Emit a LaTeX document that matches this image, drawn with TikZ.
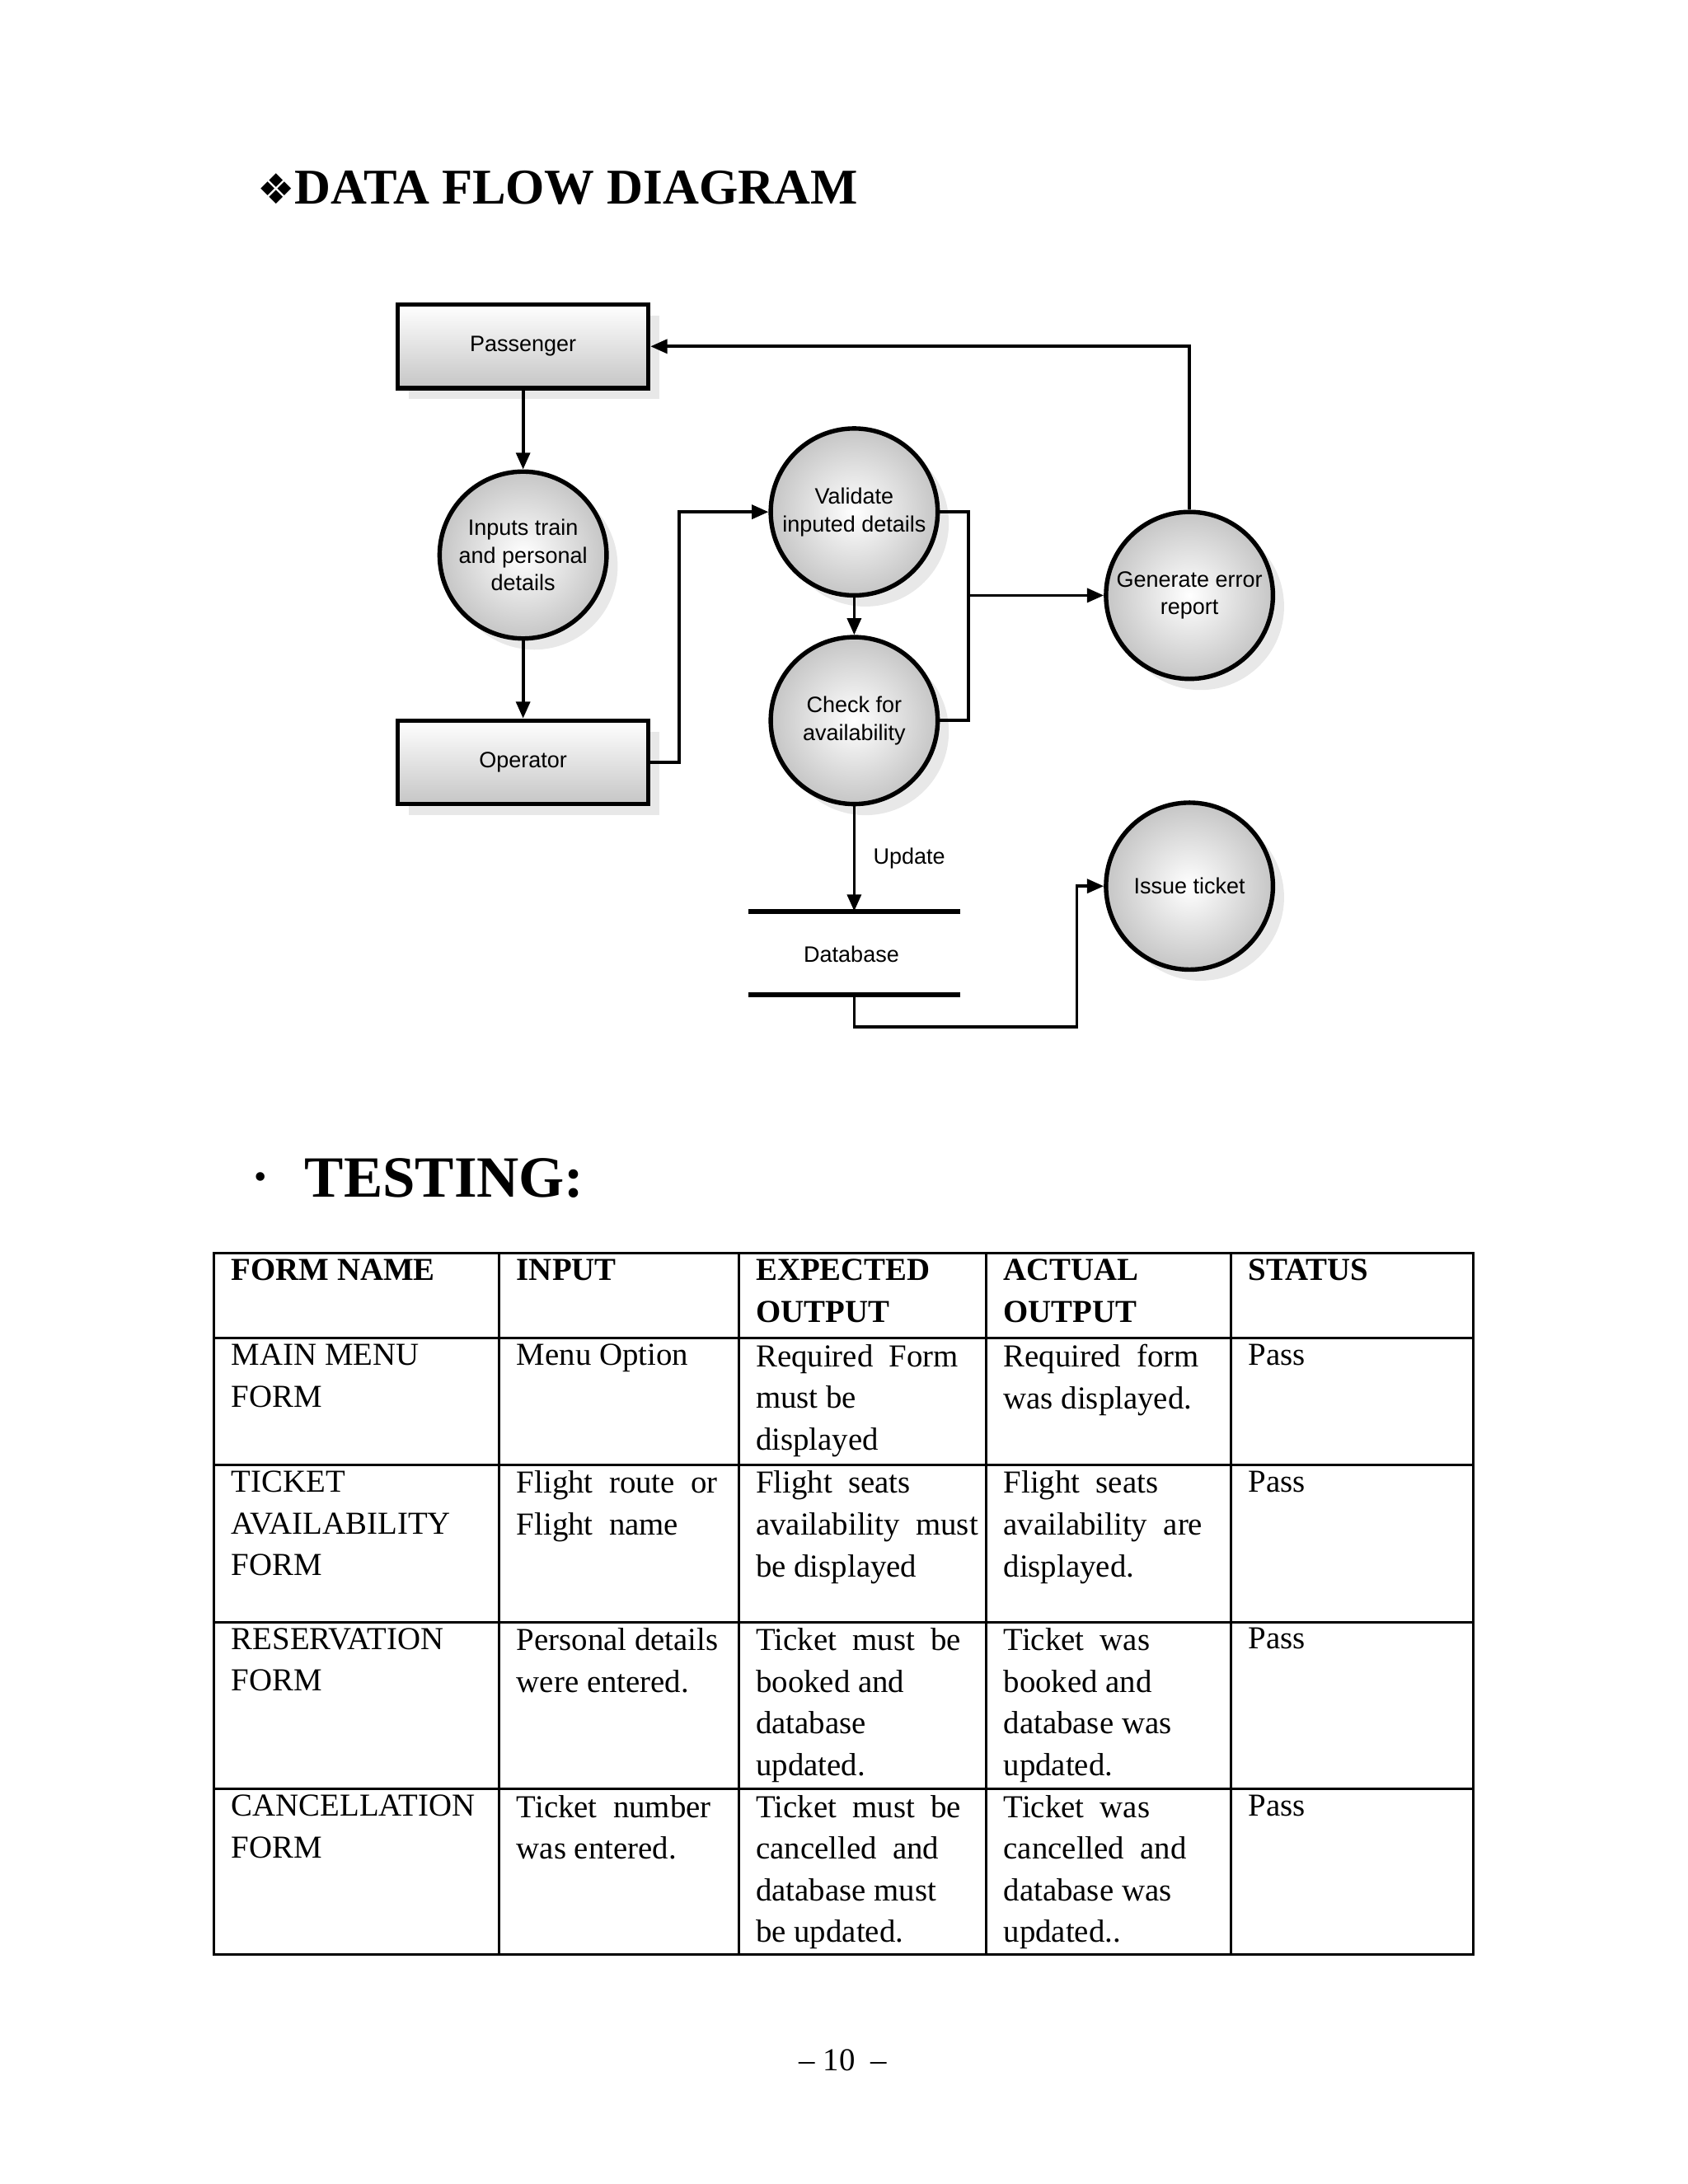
\documentclass[tikz,border=0pt]{standalone}
\usepackage{fontspec}
\setmainfont{Liberation Serif}
\newfontfamily\arialf{Liberation Sans}
\newfontfamily\djv{DejaVu Sans}
\usetikzlibrary{arrows.meta,shadows}
\begin{document}
\begin{tikzpicture}[x=0.5pt,y=-0.5pt,
  ent/.style={draw,line width=1.6pt,minimum width=90pt,minimum height=30pt,top color=white,bottom color=gray!45,font=\arialf\fontsize{8}{9.5}\selectfont,drop shadow={shadow xshift=4pt,shadow yshift=-4pt,fill=gray!35}},
  proc/.style={circle,draw,line width=1.6pt,minimum size=60pt,inner sep=0pt,inner color=white,outer color=gray!45,align=center,font=\arialf\fontsize{8}{10}\selectfont,drop shadow={shadow xshift=4pt,shadow yshift=-4pt,fill=gray!35}},
  flow/.style={line width=1.1pt,-{Triangle[length=6pt,width=5pt]}},
  ln/.style={line width=1.1pt},
  cell/.style={anchor=north west,inner sep=0pt,align=left,font=\fontsize{11.5}{15}\selectfont},
  hcell/.style={cell,font=\bfseries\fontsize{11.5}{15}\selectfont}]
\useasboundingbox (0,0) rectangle (1213,1570);
\node[anchor=west,font=\bfseries\fontsize{18}{20}\selectfont] (title) at (178,135) {{\djv\fontsize{15}{18}\selectfont ❖}DATA FLOW DIAGRAM};
% DFD
\node[ent] (pass) at (376,249) {Passenger};
\node[ent] (oper) at (376,548) {Operator};
\node[proc] (inp) at (376,399) {Inputs train\\and personal\\details};
\node[proc] (val) at (614,368) {Validate\\inputed details};
\node[proc] (chk) at (614,518) {Check for\\availability};
\node[proc] (gen) at (855,428) {Generate error\\report};
\node[proc] (iss) at (855,637) {Issue ticket};
\coordinate (dbt) at (614,655);
\coordinate (dbb) at (614,715);
\draw[line width=1.8pt] (538,655) -- (690,655);
\draw[line width=1.8pt] (538,715) -- (690,715);
\node[font=\arialf\fontsize{8}{10}\selectfont] (db) at (612,686) {Database};
\draw[flow] (pass) -- (inp);
\draw[flow] (inp) -- (oper);
\draw[flow] (oper.east) -- (488,548) -- (488,368) -- (val.west);
\draw[flow] (val) -- (chk);
\draw[ln] (val.east) -- (696,368) -- (696,518) -- (chk.east);
\draw[flow] (696,428) -- (gen.west);
\draw[flow] (gen.north) -- (855,249) -- (pass.east);
\draw[flow] (chk.south) -- node[right,font=\arialf\fontsize{8}{10}\selectfont,xshift=3pt] (upd) {Update} (dbt);
\draw[flow] (dbb) -- (614,738) -- (774,738) -- (774,637) -- (iss.west);
% testing
\node[anchor=west,font=\fontsize{13}{14}\selectfont] (bul) at (176,849) {•};
\node[anchor=west,font=\bfseries\fontsize{21}{24}\selectfont] (test) at (212,847) {TESTING:};
% table
\draw[line width=0.9pt] (154,901) rectangle (1059,1405);
\foreach \x in {359,531,709,885} \draw[line width=0.9pt] (\x,901) -- (\x,1405);
\foreach \y in {962,1053,1166,1286} \draw[line width=0.9pt] (154,\y) -- (1059,\y);
\node[hcell] (h1) at (166,905) {FORM NAME};
\node[hcell] (h2) at (371,905) {INPUT};
\node[hcell] (h3) at (543,905) {EXPECTED\\OUTPUT};
\node[hcell] (h4) at (721,905) {ACTUAL\\OUTPUT};
\node[hcell] (h5) at (897,905) {STATUS};
\node[cell] (a1) at (166,966) {MAIN MENU\\FORM};
\node[cell] (a2) at (371,966) {Menu Option};
\node[cell] (a3) at (543,966) {Required\ \ Form\\must\ be\\displayed};
\node[cell] (a4) at (721,966) {Required\ \ form\\was displayed.};
\node[cell] (a5) at (897,966) {Pass};
\node[cell] (b1) at (166,1057) {TICKET\\AVAILABILITY\\FORM};
\node[cell] (b2) at (371,1057) {Flight\ \ route\ \ or\\Flight\ \ name};
\node[cell] (b3) at (543,1057) {Flight\ \ seats\\availability\ \ must\\be displayed};
\node[cell] (b4) at (721,1057) {Flight\ \ seats\\availability\ \ are\\displayed.};
\node[cell] (b5) at (897,1057) {Pass};
\node[cell] (c1) at (166,1170) {RESERVATION\\FORM};
\node[cell] (c2) at (371,1170) {Personal details\\were entered.};
\node[cell] (c3) at (543,1170) {Ticket\ \ must\ \ be\\booked and\\database\\updated.};
\node[cell] (c4) at (721,1170) {Ticket\ \ was\\booked and\\database was\\updated.};
\node[cell] (c5) at (897,1170) {Pass};
\node[cell] (d1) at (166,1290) {CANCELLATION\\FORM};
\node[cell] (d2) at (371,1290) {Ticket\ \ number\\was entered.};
\node[cell] (d3) at (543,1290) {Ticket\ \ must\ \ be\\cancelled\ \ and\\database must\\be updated.};
\node[cell] (d4) at (721,1290) {Ticket\ \ was\\cancelled\ \ and\\database was\\updated..};
\node[cell] (d5) at (897,1290) {Pass};
\node[font=\fontsize{11.5}{14}\selectfont] (pg) at (606,1481) {– 10\ \ –};
\end{tikzpicture}
\end{document}
